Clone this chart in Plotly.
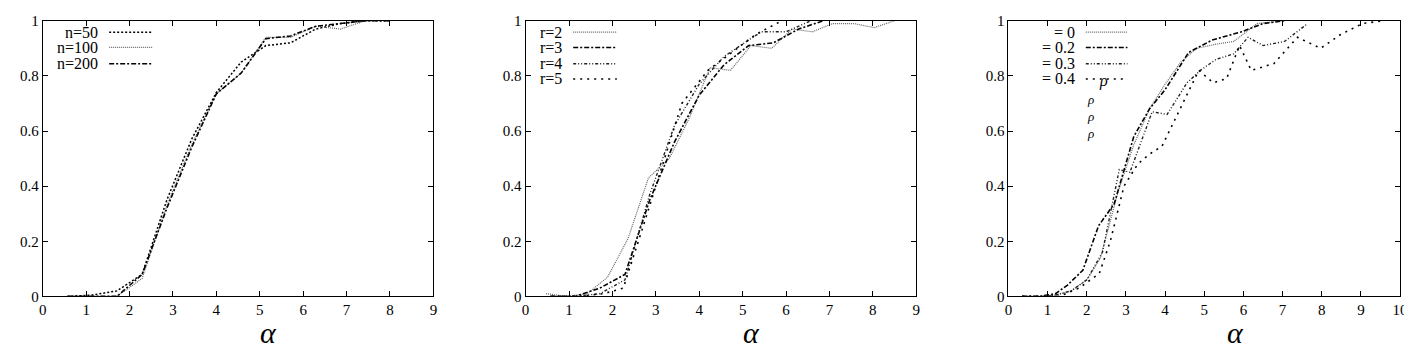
import plotly.graph_objects as go

# ---------------- data ----------------
# Panel 1: sample sizes
alpha_n = [0.57, 1.14, 1.71, 2.29, 2.86, 3.43, 4.0, 4.57, 5.14, 5.71, 6.29, 6.86, 7.43, 8.0]
n50 = [0, 0.005, 0.02, 0.08, 0.35, 0.57, 0.74, 0.85, 0.91, 0.92, 0.97, 0.99, 1.0, 1.0]
n100 = [0, 0, 0, 0.065, 0.33, 0.55, 0.735, 0.81, 0.94, 0.94, 0.98, 0.97, 1.0, 1.0]
n200 = [0, 0, 0, 0.08, 0.32, 0.54, 0.735, 0.81, 0.935, 0.945, 0.98, 0.99, 1.0, 1.0]

# Panel 2: r values
alpha_r2 = [0.47, 0.94, 1.42, 1.89, 2.36, 2.83, 3.31, 3.78, 4.25, 4.72, 5.19, 5.67, 6.14, 6.61, 7.08, 7.56, 8.03, 8.5]
r2 = [0.01, 0.0, 0.01, 0.07, 0.21, 0.43, 0.50, 0.65, 0.83, 0.82, 0.91, 0.90, 0.97, 0.96, 0.99, 0.99, 0.975, 1.0]
alpha_r3 = [0.57, 1.14, 1.71, 2.29, 2.86, 3.43, 4.0, 4.57, 5.14, 5.71, 6.29, 6.86]
r3 = [0, 0.0, 0.03, 0.08, 0.35, 0.56, 0.73, 0.84, 0.91, 0.92, 0.97, 1.0]
alpha_r4 = [0.57, 1.14, 1.71, 2.29, 2.86, 3.43, 4.0, 4.57, 5.14, 5.43, 6.0, 6.57]
r4 = [0, 0, 0.01, 0.06, 0.37, 0.62, 0.77, 0.87, 0.93, 0.96, 0.96, 1.0]
alpha_r5 = [0.6, 1.2, 1.8, 2.25, 2.7, 3.2, 3.6, 4.2, 4.8, 5.3, 5.9]
r5 = [0, 0.0, 0.01, 0.03, 0.25, 0.5, 0.7, 0.82, 0.89, 0.95, 1.0]

# Panel 3: rho values
alpha_p0 = [0.35, 0.8, 1.2, 1.6, 2.0, 2.35, 2.8, 3.2, 3.6, 4.0, 4.4, 4.8, 5.3, 5.75, 6.35, 7.0]
p0 = [0, 0, 0.005, 0.02, 0.06, 0.14, 0.38, 0.55, 0.68, 0.77, 0.85, 0.9, 0.915, 0.925, 0.99, 1.0]
alpha_p2 = [0.35, 0.8, 1.2, 1.5, 1.9, 2.3, 2.7, 3.2, 3.6, 4.0, 4.6, 5.2, 5.95, 6.5, 7.05]
p2 = [0, 0, 0.01, 0.04, 0.095, 0.256, 0.336, 0.58, 0.68, 0.75, 0.885, 0.93, 0.96, 0.99, 1.0]
alpha_p3 = [0.35, 0.8, 1.2, 1.6, 2.0, 2.4, 2.83, 3.1, 3.67, 4.05, 4.56, 4.9, 5.3, 5.75, 6.12, 6.5, 7.05, 7.64]
p3 = [0, 0, 0.005, 0.02, 0.06, 0.16, 0.46, 0.45, 0.67, 0.66, 0.775, 0.82, 0.86, 0.88, 0.94, 0.91, 0.925, 0.99]
alpha_p4 = [0.35, 0.8, 1.3, 1.8, 2.32, 2.6, 2.95, 3.3, 3.59, 3.92, 4.35, 4.86, 5.23, 5.57, 5.9, 6.2, 6.78, 7.38, 7.97, 8.48, 9.04, 9.57]
p4 = [0, 0, 0.0, 0.03, 0.083, 0.2, 0.4, 0.48, 0.515, 0.545, 0.67, 0.82, 0.775, 0.79, 0.91, 0.82, 0.845, 0.94, 0.90, 0.95, 0.99, 1.0]

ytick_vals = [0, 0.2, 0.4, 0.6, 0.8, 1]
ytick_text = ["0", "0.2", "0.4", "0.6", "0.8", "1"]
xticks_9 = list(range(0, 10))
xticks_10 = list(range(0, 11))

legend1 = ["n=50", "n=100", "n=200"]
legend2 = ["r=2", "r=3", "r=4", "r=5"]
legend3 = ["= 0", "= 0.2", "= 0.3", "= 0.4"]

# ---------------- styles ----------------
W, H = 1412, 346
FONT = "Times New Roman, Liberation Serif, DejaVu Serif, serif"
DOT = dict(color="black", width=1.5, dash="2px,2px")
FINE = dict(color="#666666", width=1.2, dash="1px,1px")
DASHDOT = dict(color="black", width=1.6, dash="5px,2px,2px,2px")
DASHDOTDOT = dict(color="#222222", width=1.4, dash="3px,2px,1px,2px,1px,2px")
SPARSE = dict(color="black", width=1.6, dash="2px,5px")

fig = go.Figure()

series = [
    (alpha_n, n50, DOT, "x", "y"), (alpha_n, n100, FINE, "x", "y"), (alpha_n, n200, DASHDOT, "x", "y"),
    (alpha_r2, r2, FINE, "x2", "y2"), (alpha_r3, r3, DASHDOT, "x2", "y2"),
    (alpha_r4, r4, DASHDOTDOT, "x2", "y2"), (alpha_r5, r5, SPARSE, "x2", "y2"),
    (alpha_p0, p0, FINE, "x3", "y3"), (alpha_p2, p2, DASHDOT, "x3", "y3"),
    (alpha_p3, p3, DASHDOTDOT, "x3", "y3"), (alpha_p4, p4, SPARSE, "x3", "y3"),
]
for xs, ys, ln, xa, ya in series:
    fig.add_trace(go.Scatter(x=xs, y=ys, mode="lines", line=ln, xaxis=xa, yaxis=ya,
                             showlegend=False, hoverinfo="skip"))

def px_x(p):
    return p / W

def px_y(p):
    return 1 - p / H

panels = [(31, 425, 9, xticks_9), (518, 912, 9, xticks_9), (1005, 1400, 10, xticks_10)]
ydom = [px_y(294), px_y(5)]
axis_common = dict(showline=True, linecolor="black", linewidth=1, mirror="allticks",
                   ticks="inside", ticklen=5, tickcolor="black", showgrid=False, zeroline=False,
                   ticklabeloverflow="allow",
                   tickfont=dict(family=FONT, size=15, color="black"))
for i, (x0, x1, xmax, xt) in enumerate(panels):
    sfx = "" if i == 0 else str(i + 1)
    fig.layout["xaxis" + sfx] = dict(domain=[px_x(x0), px_x(x1)], range=[0, xmax], tickvals=xt,
                                     anchor="y" + sfx, **axis_common)
    fig.layout["yaxis" + sfx] = dict(domain=ydom, range=[0, 1], tickvals=ytick_vals, ticktext=ytick_text,
                                     anchor="x" + sfx, **axis_common)
    fig.add_annotation(text="<i>α</i>", xref="paper", yref="paper", x=px_x((x0 + x1) / 2 + 31), y=0,
                       xanchor="center", yanchor="bottom", showarrow=False, height=24, valign="middle",
                       font=dict(family=FONT, size=30, color="black"))

# manual legends (text right-aligned, sample to the right)
def add_legend(labels, styles, text_right, s0, s1, rows):
    for lab, st, yy in zip(labels, styles, rows):
        fig.add_annotation(text=lab, xref="paper", yref="paper", x=px_x(text_right), y=px_y(yy),
                           xanchor="right", yanchor="middle", showarrow=False,
                           font=dict(family=FONT, size=16, color="black"))
        fig.add_shape(type="line", xref="paper", yref="paper", x0=px_x(s0), x1=px_x(s1),
                      y0=px_y(yy), y1=px_y(yy), line=st)

rows = [17, 33, 50, 66]
add_legend(legend1, [DOT, FINE, DASHDOT], 89, 98, 142, rows)
add_legend(legend2, [FINE, DASHDOT, DASHDOTDOT, SPARSE], 557, 566, 610, rows)
add_legend(legend3, [FINE, DASHDOT, DASHDOTDOT, SPARSE], 1074, 1083, 1125, rows)

# misplaced rho symbols in third legend
fig.add_annotation(text="<i>ρ</i>", xref="paper", yref="paper", x=px_x(1101), y=px_y(68),
                   xanchor="center", yanchor="middle", showarrow=False,
                   font=dict(family=FONT, size=16, color="black"))
fig.add_annotation(text="<i>ρ</i><br><i>ρ</i><br><i>ρ</i>", xref="paper", yref="paper",
                   x=px_x(1088), y=px_y(78), xanchor="center", yanchor="top", showarrow=False,
                   font=dict(family=FONT, size=13, color="black"))

fig.update_layout(width=W, height=H, margin=dict(l=0, r=0, t=0, b=0),
                  paper_bgcolor="white", plot_bgcolor="white", showlegend=False)
fig.write_html("out.html")
